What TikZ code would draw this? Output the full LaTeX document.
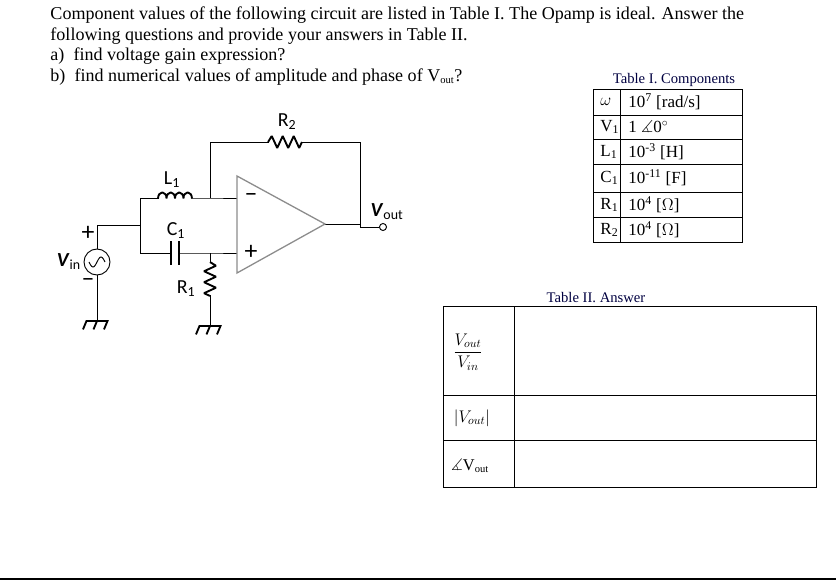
\documentclass[tikz,border=0pt]{standalone}
\usepackage{fontspec}
\usepackage{amssymb}
\setmainfont{Liberation Serif}
\newfontfamily\calfont{Carlito}
\usepackage[american]{circuitikz}
\usetikzlibrary{positioning}
\ctikzset{bipoles/length=1.2cm}
\tikzset
{
    txtline/.style  = {anchor=west, inner sep=0, font=\fontsize{15.4}{18}\selectfont},
    lbl/.style      = {inner sep=1pt, font=\calfont\fontsize{17}{19}\selectfont},
    sgn/.style      = {inner sep=0, font=\calfont\fontsize{22}{22}\selectfont},
    cell/.style     = {anchor=west, inner sep=0, font=\fontsize{14.5}{16}\selectfont},
    ttl/.style      = {inner sep=0, font=\fontsize{12.5}{14}\selectfont, text=black!75!blue}
}

\begin{document}
\begin{tikzpicture}[x=0.03cm, y=-0.03cm, line width=0.8pt]
\useasboundingbox (0,0) rectangle (836,586);

%% question text
\node (t1) [txtline] at (50,15) {Component values of the following circuit are listed in Table I. The Opamp is ideal. Answer the};
\node (t2) [txtline] at (50,36) {following questions and provide your answers in Table II.};
\node (t3) [txtline] at (50,56) {a)\ \ find voltage gain expression?};
\node (t4) [txtline] at (50,77) {b)\ \ find numerical values of amplitude and phase of V\textsubscript{\small out}?};

%% circuit
\coordinate (a1) at (97,225);
\coordinate (a2) at (140,225);
\coordinate (l0) at (140,198);
\coordinate (c0) at (140,253);
\coordinate (nm) at (210,198);
\coordinate (np) at (210,253);
\coordinate (im) at (237,198);
\coordinate (ip) at (237,253);
\coordinate (f1) at (210,142);
\coordinate (f2) at (360,142);
\coordinate (f3) at (360,224);
\coordinate (tip) at (325,224);
\coordinate (r1b) at (210,305);
\coordinate (g1) at (97,300);

\node (vs) [draw, circle, inner sep=0, minimum size=0.78cm] at (97,262) {};
\draw plot[domain=-1:1, samples=30, smooth] ({97+8*\x},{262-5*sin(180*\x)});
\draw (vs.north) -- (a1) -- (a2);
\draw (vs.south) -- (g1) node[cground, scale=1.4] (gd1) {};
\draw (l0) -- (c0);
\draw (l0) to[L] (nm) -- (im);
\draw (c0) to[C] (np) -- (ip);
\draw (np) to[R] (r1b) node[cground, scale=1.4] (gd2) {};
\draw (nm) -- (f1) to[R] (f2) -- (f3);
\node (out) [draw, circle, inner sep=0, minimum size=6pt, fill=white] at (383,227) {};
\draw (tip) -- (f3) |- (out.west);
\draw[black!45, line width=1.1pt] (237,176) -- (325,224) -- (237,273) -- cycle;

\node (mn) [sgn] at (251,198) {\textendash};
\node (pl) [sgn] at (251,252) {+};
\node (sp) [sgn] at (88,233) {+};
\node (sm) [sgn] at (88,283) {\textendash};
\node (vin) [lbl, left=1pt of vs] {\textbf{\textit{V}}\textsubscript{in}};
\node (vout) [lbl] at (387,212) {\textbf{\textit{V}}\textsubscript{out}};
\node (nL) [lbl] at (172,180) {L\textsubscript{1}};
\node (nC) [lbl] at (176,231) {C\textsubscript{1}};
\node (nR1) [lbl] at (186,289) {R\textsubscript{1}};
\node (nR2) [lbl] at (287,122) {R\textsubscript{2}};

%% Table I
\node (tab1) [ttl] at (674,80) {Table I. Components};
\draw[line width=0.5pt] (593,89) rectangle (742,242);
\draw[line width=0.5pt] (620,89) -- (620,242);
\foreach \y in {115,139,164,192,217}
    \draw[line width=0.5pt] (593,\y) -- (742,\y);
\foreach \y/\a/\b in {102/$\omega$/{10\textsuperscript{7} [rad/s]}, 127/V\textsubscript{1}/{1 $\measuredangle$0$^\circ$}, 152/L\textsubscript{1}/{10\textsuperscript{-3} [H]}, 178/C\textsubscript{1}/{10\textsuperscript{-11} [F]}, 205/R\textsubscript{1}/{10\textsuperscript{4} [$\Omega$]}, 230/R\textsubscript{2}/{10\textsuperscript{4} [$\Omega$]}}
{
    \node[cell] at (600,\y) {\a};
    \node[cell] at (628,\y) {\b};
}

%% Table II
\node (tab2) [ttl] at (596,298) {Table II. Answer};
\draw[line width=0.5pt] (443,306) rectangle (816,487);
\draw[line width=0.5pt] (514,306) -- (514,487);
\draw[line width=0.5pt] (443,395) -- (816,395);
\draw[line width=0.5pt] (443,440) -- (816,440);
\node (g1c) [inner sep=0, font=\fontsize{14}{16}\selectfont] at (468,352) {$\displaystyle\frac{V_{out}}{V_{in}}$};
\node (g2c) [inner sep=0, font=\fontsize{14}{16}\selectfont] at (472,418) {$|V_{out}|$};
\node (g3c) [inner sep=0, font=\fontsize{14}{16}\selectfont] at (470,466) {$\measuredangle$V\textsubscript{\small out}};

%% bottom rule
\draw[line width=1.5pt] (0,579) -- (836,579);
\end{tikzpicture}
\end{document}
